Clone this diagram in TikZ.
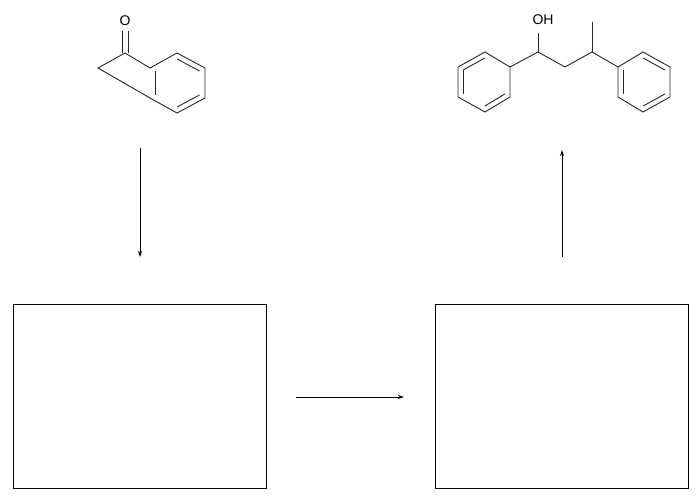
\documentclass[tikz,border=0pt]{standalone}
\usepackage{fontspec}
\setmainfont{Liberation Sans}
\usetikzlibrary{calc,arrows.meta}
\tikzset{bond/.style={line width=0.9pt,black!85},
 box/.style={draw,line width=0.8pt,minimum width=253pt,minimum height=184pt,inner sep=0pt},
 rxn/.style={line width=0.9pt,-{Stealth[length=6pt,width=4pt]}},
 atom/.style={inner sep=0.5pt,font=\fontsize{14}{14}\selectfont}}
\newcommand{\ringdb}[3]{\draw[bond] ($(#1)!0.8!(#2)$) -- ($(#1)!0.8!(#3)$);}
\begin{document}
\begin{tikzpicture}[x=1pt,y=-1pt]
\useasboundingbox (0,0) rectangle (700,503);
% acetophenone
\coordinate (m1) at (98,68); \coordinate (c1) at (125,53);
\node[atom] (o1) at (125,21) {O};
\coordinate (a1) at (150,68); \coordinate (a2) at (177,53); \coordinate (a3) at (205,68);
\coordinate (a4) at (205,98); \coordinate (a5) at (177,113); \coordinate (a6) at (150,98);
\coordinate (ac) at (177.5,83);
\draw[bond] (m1)--(c1)--(a1)--(a2)--(a3)--(a4)--(a5)--(a6)--cycle;
\draw[bond] (122,53)--(122,31) (128,53)--(128,31);
\ringdb{ac}{a1}{a6}\ringdb{ac}{a2}{a3}\ringdb{ac}{a4}{a5}
% product
\coordinate (b1) at (485,52); \coordinate (b2) at (510,67); \coordinate (b3) at (510,97);
\coordinate (b4) at (485,112); \coordinate (b5) at (458,97); \coordinate (b6) at (458,67);
\coordinate (bc) at (484,82);
\coordinate (p1) at (538,52); \coordinate (p2) at (565,67); \coordinate (p3) at (592,52);
\coordinate (pm) at (592,22);
\node[atom] (oh) at (543,20) {OH};
\coordinate (d1) at (618,67); \coordinate (d2) at (643,52); \coordinate (d3) at (670,67);
\coordinate (d4) at (670,97); \coordinate (d5) at (643,112); \coordinate (d6) at (618,97);
\coordinate (dc) at (644,82);
\draw[bond] (b1)--(b2)--(b3)--(b4)--(b5)--(b6)--cycle;
\draw[bond] (b2)--(p1)--(p2)--(p3)--(d1);
\draw[bond] (p1)--(538,33);
\draw[bond] (p3)--(pm);
\draw[bond] (d1)--(d2)--(d3)--(d4)--(d5)--(d6)--cycle;
\ringdb{bc}{b5}{b6}\ringdb{bc}{b6}{b1}\ringdb{bc}{b3}{b4}
\ringdb{dc}{d1}{d6}\ringdb{dc}{d2}{d3}\ringdb{dc}{d4}{d5}
% boxes
\node[box] (box1) at (139.5,396) {};
\node[box] (box2) at (561.5,396) {};
\coordinate (s1) at (140,148); \coordinate (e1) at (140,257);
\coordinate (s2) at (562,257); \coordinate (e2) at (562,150);
\coordinate (s3) at (296,397); \coordinate (e3) at (404,397);
\draw[rxn] (s1)--(e1);
\draw[rxn] (s2)--(e2);
\draw[rxn] (s3)--(e3);
\end{tikzpicture}
\end{document}
